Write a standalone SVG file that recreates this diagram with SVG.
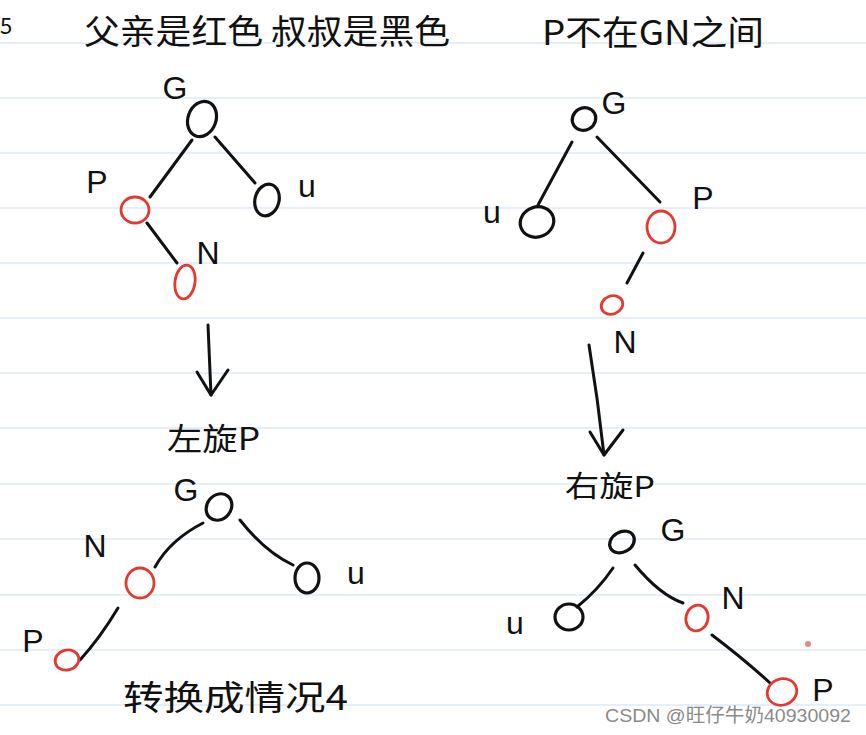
<svg xmlns="http://www.w3.org/2000/svg" width="866" height="735" viewBox="0 0 866 735">
<style>
.rule{stroke:#dde9f7;stroke-width:1.5}
.blk{fill:none;stroke:#111;stroke-width:3.2}
.red{fill:none;stroke:#e3392f;stroke-width:2.8}
.edge{fill:none;stroke:#111;stroke-width:3;stroke-linecap:round;stroke-linejoin:round}
.lbl{font-family:"Liberation Sans","DejaVu Sans",sans-serif;font-size:32px;fill:#111;text-anchor:middle;dominant-baseline:central}
.zh{font-family:"Noto Sans CJK SC","Noto Sans",sans-serif;fill:#111}
.wm{font-family:"Liberation Sans","Noto Sans CJK SC",sans-serif;font-size:19px;fill:#8a8a8a}
</style>
<rect width="866" height="735" fill="#ffffff"/>
<g id="paper-lines">
<line class="rule" x1="0" y1="43" x2="866" y2="43"/>
<line class="rule" x1="0" y1="98" x2="866" y2="98"/>
<line class="rule" x1="0" y1="153" x2="866" y2="153"/>
<line class="rule" x1="0" y1="208" x2="866" y2="208"/>
<line class="rule" x1="0" y1="263" x2="866" y2="263"/>
<line class="rule" x1="0" y1="318" x2="866" y2="318"/>
<line class="rule" x1="0" y1="373" x2="866" y2="373"/>
<line class="rule" x1="0" y1="428" x2="866" y2="428"/>
<line class="rule" x1="0" y1="484" x2="866" y2="484"/>
<line class="rule" x1="0" y1="539" x2="866" y2="539"/>
<line class="rule" x1="0" y1="595" x2="866" y2="595"/>
<line class="rule" x1="0" y1="650" x2="866" y2="650"/>
<line class="rule" x1="0" y1="705" x2="866" y2="705"/>
</g>
<g id="titles">
<text class="zh" x="0" y="34" font-size="22">5</text>
<text class="zh" x="84" y="44" font-size="34" textLength="366" lengthAdjust="spacingAndGlyphs">父亲是红色 叔叔是黑色</text>
<text class="zh" x="542" y="45" font-size="34" textLength="222" lengthAdjust="spacingAndGlyphs">P不在GN之间</text>
<text class="zh" x="167" y="450" font-size="31" textLength="93" lengthAdjust="spacingAndGlyphs">左旋P</text>
<text class="zh" x="565" y="497" font-size="29" textLength="90" lengthAdjust="spacingAndGlyphs">右旋P</text>
<text class="zh" x="123" y="710" font-size="34" textLength="225" lengthAdjust="spacingAndGlyphs">转换成情况4</text>
<text class="wm" x="605" y="722" textLength="246" lengthAdjust="spacingAndGlyphs">CSDN @旺仔牛奶40930092</text>
</g>
<g id="connectors">
<path class="edge" d="M192 140 L150 197"/>
<path class="edge" d="M215 137 L255 183"/>
<path class="edge" d="M147 223 L177 263"/>
<path class="edge" d="M208 325 L211 395"/>
<path class="edge" d="M197 372 L211 395 L228 370"/>
<path class="edge" d="M572 142 L538 205"/>
<path class="edge" d="M597 137 L660 202"/>
<path class="edge" d="M643 253 L627 283"/>
<path class="edge" d="M589 345 Q598 400 604 455"/>
<path class="edge" d="M590 432 L604 455 L623 430"/>
<path class="edge" d="M203 523 Q170 540 155 567"/>
<path class="edge" d="M240 520 Q265 552 293 565"/>
<path class="edge" d="M118 608 Q100 638 80 660"/>
<path class="edge" d="M613 568 Q598 590 577 607"/>
<path class="edge" d="M635 565 Q660 595 683 603"/>
<path class="edge" d="M712 635 Q745 660 770 683"/>
</g>
<g id="d1-G"><ellipse class="blk" cx="202" cy="119" rx="14" ry="18" transform="rotate(20 202 119)"/><text class="lbl" x="175" y="88">G</text></g>
<g id="d1-P"><ellipse class="red" cx="135" cy="210" rx="14" ry="13"/><text class="lbl" x="97" y="182">P</text></g>
<g id="d1-U"><ellipse class="blk" cx="267" cy="200" rx="12" ry="16" transform="rotate(15 267 200)"/><text class="lbl" x="307" y="186">u</text></g>
<g id="d1-N"><ellipse class="red" cx="185" cy="282" rx="10" ry="17" transform="rotate(8 185 282)"/><text class="lbl" x="208" y="253">N</text></g>
<g id="d2-G"><ellipse class="blk" cx="584" cy="119" rx="12" ry="11" transform="rotate(-30 584 119)"/><text class="lbl" x="614" y="103">G</text></g>
<g id="d2-U"><ellipse class="blk" cx="537" cy="222" rx="17" ry="15" transform="rotate(-20 537 222)"/><text class="lbl" x="492" y="212">u</text></g>
<g id="d2-P"><ellipse class="red" cx="661" cy="227" rx="14" ry="16"/><text class="lbl" x="703" y="198">P</text></g>
<g id="d2-N"><ellipse class="red" cx="612" cy="305" rx="11" ry="9" transform="rotate(-20 612 305)"/><text class="lbl" x="625" y="342">N</text></g>
<g id="d3-G"><ellipse class="blk" cx="219" cy="507" rx="12" ry="14" transform="rotate(40 219 507)"/><text class="lbl" x="186" y="490">G</text></g>
<g id="d3-N"><ellipse class="red" cx="140" cy="583" rx="14" ry="15"/><text class="lbl" x="95" y="546">N</text></g>
<g id="d3-U"><ellipse class="blk" cx="307" cy="578" rx="12" ry="15"/><text class="lbl" x="356" y="573">u</text></g>
<g id="d3-P"><ellipse class="red" cx="67" cy="660" rx="12" ry="10" transform="rotate(-15 67 660)"/><text class="lbl" x="33" y="641">P</text></g>
<g id="d4-G"><ellipse class="blk" cx="622" cy="542" rx="13" ry="10" transform="rotate(-30 622 542)"/><text class="lbl" x="673" y="530">G</text></g>
<g id="d4-U"><ellipse class="blk" cx="569" cy="617" rx="14" ry="13"/><text class="lbl" x="515" y="623">u</text></g>
<g id="d4-N"><ellipse class="red" cx="697" cy="618" rx="11" ry="13" transform="rotate(15 697 618)"/><text class="lbl" x="733" y="598">N</text></g>
<g id="d4-P"><ellipse class="red" cx="782" cy="692" rx="15" ry="13" transform="rotate(-20 782 692)"/><text class="lbl" x="823" y="690">P</text></g>
<circle cx="808" cy="644" r="3" fill="#e08a8a"/>
</svg>
